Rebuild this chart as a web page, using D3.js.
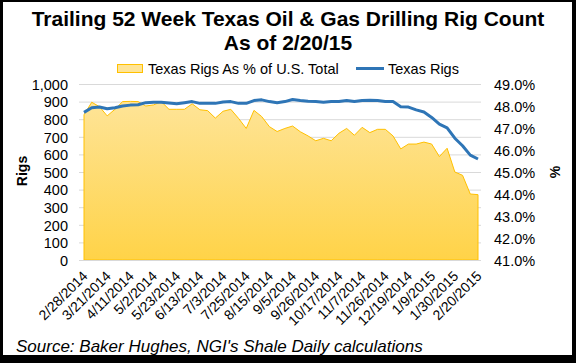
<!DOCTYPE html>
<html>
<head>
<meta charset="utf-8">
<script src="https://cdnjs.cloudflare.com/ajax/libs/d3/7.8.5/d3.min.js"></script>
<style>
    body { margin: 0; background: #000; }
    svg { display: block; font-family: Arial, "Liberation Sans", sans-serif; }
</style>
</head>
<body>
<div id="chart"></div>
<script>
// weekly report dates (every third one is labelled)
var dates = [
    '2/28/2014', '3/7/2014', '3/14/2014', '3/21/2014', '3/28/2014', '4/4/2014', '4/11/2014',
    '4/17/2014', '4/25/2014', '5/2/2014', '5/9/2014', '5/16/2014', '5/23/2014', '5/30/2014',
    '6/6/2014', '6/13/2014', '6/20/2014', '6/27/2014', '7/3/2014', '7/11/2014', '7/18/2014',
    '7/25/2014', '8/1/2014', '8/8/2014', '8/15/2014', '8/22/2014', '8/29/2014', '9/5/2014',
    '9/12/2014', '9/19/2014', '9/26/2014', '10/3/2014', '10/10/2014', '10/17/2014', '10/24/2014',
    '10/31/2014', '11/7/2014', '11/14/2014', '11/21/2014', '11/26/2014', '12/5/2014', '12/12/2014',
    '12/19/2014', '12/24/2014', '1/2/2015', '1/9/2015', '1/16/2015', '1/23/2015', '1/30/2015',
    '2/6/2015', '2/13/2015', '2/20/2015'
];

// texas rig count (left axis)
var texasRigs = [
    839, 865, 869, 859, 865, 875, 880, 882, 894, 896,
    896, 892, 888, 894, 900, 890, 890, 890, 898, 900,
    890, 890, 906, 910, 900, 893, 900, 912, 906, 902,
    900, 896, 900, 900, 906, 900, 906, 908, 906, 900,
    900, 871, 869, 853, 841, 810, 772, 751, 692, 649,
    596, 574
];

// texas rigs as % of u.s. total (right axis)
var texasShare = [
    47.6, 48.17, 47.97, 47.55, 47.85, 48.2, 48.21, 48.2, 48.0, 48.05,
    48.2, 47.85, 47.85, 47.85, 48.1, 47.83, 47.79, 47.45, 47.76, 47.85,
    47.44, 46.98, 47.8, 47.52, 47.06, 46.84, 46.98, 47.09, 46.83, 46.64,
    46.42, 46.53, 46.42, 46.76, 46.98, 46.67, 47.03, 46.79, 46.94, 46.94,
    46.64, 46.05, 46.27, 46.27, 46.36, 46.27, 45.7, 46.08, 45.0, 44.85,
    44.0, 43.97
];

var rigTicks = [0, 100, 200, 300, 400, 500, 600, 700, 800, 900, 1000];
var shareTicks = [41, 42, 43, 44, 45, 46, 47, 48, 49];

var title = ['Trailing 52 Week Texas Oil & Gas Drilling Rig Count', 'As of 2/20/15'];
var legendLabels = ['Texas Rigs As % of U.S. Total', 'Texas Rigs'];
var source = "Source: Baker Hughes, NGI's Shale Daily calculations";

function drawChart(){
    var width = 576,
        height = 363;

    var svg = d3.select('#chart').append('svg')
        .attr('width', width)
        .attr('height', height);

    // black frame around white card
    svg.append('rect').attr('width', width).attr('height', height).attr('fill', '#000');
    svg.append('rect')
        .attr('x', 3).attr('y', 2)
        .attr('width', 569).attr('height', 353)
        .attr('fill', '#fff');

    var defs = svg.append('defs');
    var grad = defs.append('linearGradient')
        .attr('id', 'areaFill')
        .attr('x1', 0).attr('y1', 0).attr('x2', 0).attr('y2', 1);
    grad.append('stop').attr('offset', '0%').attr('stop-color', '#fee497');
    grad.append('stop').attr('offset', '100%').attr('stop-color', '#ffd348');

    // scales
    var x = d3.scalePoint().domain(dates).range([84, 478]);
    var yRigs = d3.scaleLinear().domain([0, 1000]).range([260, 84]);
    var yShare = d3.scaleLinear().domain([41, 49]).range([260, 84]);

    // gridlines
    svg.append('g')
        .selectAll('line')
        .data(rigTicks)
        .enter().append('line')
            .attr('x1', 79).attr('x2', 481)
            .attr('y1', function(d){ return yRigs(d) + 0.5; })
            .attr('y2', function(d){ return yRigs(d) + 0.5; })
            .attr('stroke', '#d9d9d9')
            .attr('stroke-width', 1);

    // share area
    var area = d3.area()
        .x(function(d, i){ return x(dates[i]); })
        .y0(yShare(41))
        .y1(function(d){ return yShare(d); });

    svg.append('path')
        .datum(texasShare)
        .attr('d', area)
        .attr('fill', 'url(#areaFill)')
        .attr('stroke', '#ffc000')
        .attr('stroke-width', 1);

    // rig count line
    var line = d3.line()
        .x(function(d, i){ return x(dates[i]); })
        .y(function(d){ return yRigs(d); });

    svg.append('path')
        .datum(texasRigs)
        .attr('d', line)
        .attr('fill', 'none')
        .attr('stroke', '#2e75b6')
        .attr('stroke-width', 3)
        .attr('stroke-linejoin', 'round');

    // left axis
    var leftAxis = d3.axisLeft(yRigs)
        .tickValues(rigTicks)
        .tickSize(0)
        .tickPadding(0)
        .tickFormat(d3.format(','));

    svg.append('g')
        .attr('transform', 'translate(68,0)')
        .call(leftAxis)
        .call(function(g){ g.select('.domain').remove(); })
        .selectAll('text')
            .attr('font-size', '14.5px')
            .attr('font-family', 'Arial, "Liberation Sans", sans-serif')
            .attr('fill', '#000')
            .attr('dy', '0.36em');

    // right axis
    var rightAxis = d3.axisRight(yShare)
        .tickValues(shareTicks)
        .tickSize(0)
        .tickPadding(0)
        .tickFormat(function(d){ return d.toFixed(1) + '%'; });

    svg.append('g')
        .attr('transform', 'translate(494,0)')
        .call(rightAxis)
        .call(function(g){ g.select('.domain').remove(); })
        .selectAll('text')
            .attr('font-size', '14.5px')
            .attr('font-family', 'Arial, "Liberation Sans", sans-serif')
            .attr('fill', '#000')
            .attr('dy', '0.36em');

    // bottom axis, rotated labels every third week
    var bottomAxis = d3.axisBottom(x)
        .tickValues(dates.filter(function(d, i){ return i % 3 === 0; }))
        .tickSize(0)
        .tickPadding(0);

    var gx = svg.append('g')
        .attr('transform', 'translate(0,260)')
        .call(bottomAxis);
    gx.select('.domain').remove();
    gx.selectAll('text')
        .attr('font-size', '14px')
        .attr('font-family', 'Arial, "Liberation Sans", sans-serif')
        .attr('fill', '#000')
        .attr('text-anchor', 'end')
        .attr('y', 0).attr('dy', 0)
        .attr('transform', 'translate(4,17) rotate(-45)');

    svg.append('line')
        .attr('x1', 79).attr('x2', 481)
        .attr('y1', 260.5).attr('y2', 260.5)
        .attr('stroke', '#d9d9d9');

    // axis titles
    svg.append('text')
        .attr('transform', 'translate(27,171) rotate(-90)')
        .attr('text-anchor', 'middle')
        .attr('font-size', '14px')
        .attr('font-weight', 'bold')
        .text('Rigs');

    svg.append('text')
        .attr('transform', 'translate(560,172) rotate(-90)')
        .attr('text-anchor', 'middle')
        .attr('font-size', '14px')
        .attr('font-weight', 'bold')
        .text('%');

    // title
    svg.append('g').selectAll('text')
        .data(title)
        .enter().append('text')
            .attr('x', 288)
            .attr('y', function(d, i){ return 26 + i * 24; })
            .attr('text-anchor', 'middle')
            .attr('font-size', '21px')
            .attr('font-weight', 'bold')
            .text(function(d){ return d; });

    // legend
    var legend = svg.append('g');
    legend.append('rect')
        .attr('x', 117.5).attr('y', 64.5)
        .attr('width', 25).attr('height', 8)
        .attr('fill', '#fee497')
        .attr('stroke', '#ffc000');
    legend.append('text')
        .attr('x', 148).attr('y', 74)
        .attr('font-size', '14.5px')
        .text(legendLabels[0]);
    legend.append('line')
        .attr('x1', 356).attr('x2', 384)
        .attr('y1', 68.5).attr('y2', 68.5)
        .attr('stroke', '#2e75b6')
        .attr('stroke-width', 3);
    legend.append('text')
        .attr('x', 388).attr('y', 74)
        .attr('font-size', '14.5px')
        .text(legendLabels[1]);

    // source note
    svg.append('text')
        .attr('x', 16).attr('y', 352)
        .attr('font-size', '17px')
        .attr('font-style', 'italic')
        .text(source);
}

drawChart();
</script>
</body>
</html>
